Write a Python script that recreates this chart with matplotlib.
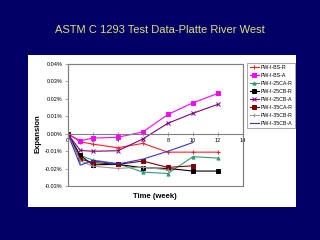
import matplotlib
matplotlib.use('Agg')
import matplotlib.pyplot as plt
from matplotlib.patches import Rectangle
from matplotlib.ticker import FuncFormatter

plt.rcParams['font.family'] = ['Liberation Sans', 'DejaVu Sans']

weeks = [0, 1, 2, 4, 6, 8, 10, 12]
names = ['PW-I-BS-R', 'PW-I-BS-A', 'PW-I-25CA-R', 'PW-I-25CB-R',
         'PW-I-25CB-A', 'PW-I-35CA-R', 'PW-I-35CB-R', 'PW-I-35CB-A']
bs_r = [0, -0.0046, -0.0059, -0.0080, -0.0055, -0.0105, -0.0105, -0.0105]
bs_a = [0, -0.0040, -0.0025, -0.0020, 0.0010, 0.0110, 0.0177, 0.0230]
ca25_r = [0, -0.0124, -0.0150, -0.0170, -0.0219, -0.0227, -0.0131, -0.0139]
cb25_r = [0, -0.0124, -0.0177, -0.0175, -0.0194, -0.0198, -0.0213, -0.0213]
cb25_a = [0, -0.0095, -0.0100, -0.0097, -0.0030, 0.0060, 0.0117, 0.0168]
ca35_r = [0, -0.0145, -0.0164, -0.0175, -0.0156, -0.0192, -0.0183]
cb35_r = [0, -0.0155, -0.0185, -0.0198, -0.0190, -0.0207]
cb35_a = [0, -0.0179, -0.0154, -0.0173, -0.0145, -0.0100, -0.0050]

series = [bs_r, bs_a, ca25_r, cb25_r, cb25_a, ca35_r, cb35_r, cb35_a]
colors = ['#FF2020', '#FF00FF', '#339977', '#000000', '#800080', '#800000', '#999999', '#3333DD']
markers = ['+', 's', '^', 's', 'x', 's', '+', None]
msizes = [2.5, 3.2, 2.3, 2.6, 2.2, 2.2, 2.5, 0]

W, H = 320, 240
fig = plt.figure(figsize=(3.2, 2.4), dpi=100)
fig.patch.set_facecolor('#000066')

# white panel behind the chart
fig.patches.append(Rectangle((28 / W, 1 - 207 / H), (296 - 28) / W, (207 - 55) / H,
                             transform=fig.transFigure, facecolor='white',
                             edgecolor='none', zorder=-5))

fig.text(160 / W, 1 - 30 / H, 'ASTM C 1293 Test Data-Platte River West',
         ha='center', va='center', fontsize=8, color='#E6DC78')

ax = fig.add_axes([67.7 / W, 1 - 186.3 / H, 175.3 / W, 122.6 / H])
ax.set_zorder(2)
ax.set_facecolor('white')

for i in range(len(series)):
    ax.plot(weeks[:len(series[i])], series[i], color=colors[i], marker=markers[i],
            markersize=msizes[i], linewidth=0.8, markeredgewidth=0.7, label=names[i])

ax.set_xlim(0, 14)
ax.set_ylim(-0.03, 0.04)
ax.set_xticks(range(0, 15, 2))
ax.set_yticks([-0.03, -0.02, -0.01, 0, 0.01, 0.02, 0.03, 0.04])
ax.yaxis.set_major_formatter(FuncFormatter(lambda v, p: '%.2f%%' % v))
ax.tick_params(labelsize=4, length=2, width=0.5, color='#808080', pad=1.5)
ax.tick_params(axis='x', direction='inout', length=3)

for s in ['top', 'right', 'left']:
    ax.spines[s].set_color('#808080')
    ax.spines[s].set_linewidth(0.8)
ax.spines['bottom'].set_position(('data', 0))
ax.spines['bottom'].set_color('#808080')
ax.spines['bottom'].set_linewidth(0.8)
ax.add_patch(Rectangle((0, 0), 1, 1, transform=ax.transAxes, fill=False,
                       edgecolor='#808080', linewidth=0.8, clip_on=False))

fig.text(38 / W, 1 - 134 / H, 'Expansion', rotation=90, ha='center', va='center',
         fontsize=5.5, fontweight='bold')
fig.text(155 / W, 1 - 197 / H, 'Time (week)', ha='center', va='center',
         fontsize=5.5, fontweight='bold')

leg = ax.legend(loc='upper left', bbox_to_anchor=(247 / W, 1 - 62.7 / H),
                bbox_transform=fig.transFigure, fontsize=3.8, frameon=True,
                fancybox=False, borderpad=0.5, labelspacing=0.55,
                handlelength=1.7, handletextpad=0.4, borderaxespad=0)
leg.get_frame().set_edgecolor('#808080')
leg.get_frame().set_linewidth(0.6)

fig.savefig('out.png', dpi=100, facecolor=fig.get_facecolor())
